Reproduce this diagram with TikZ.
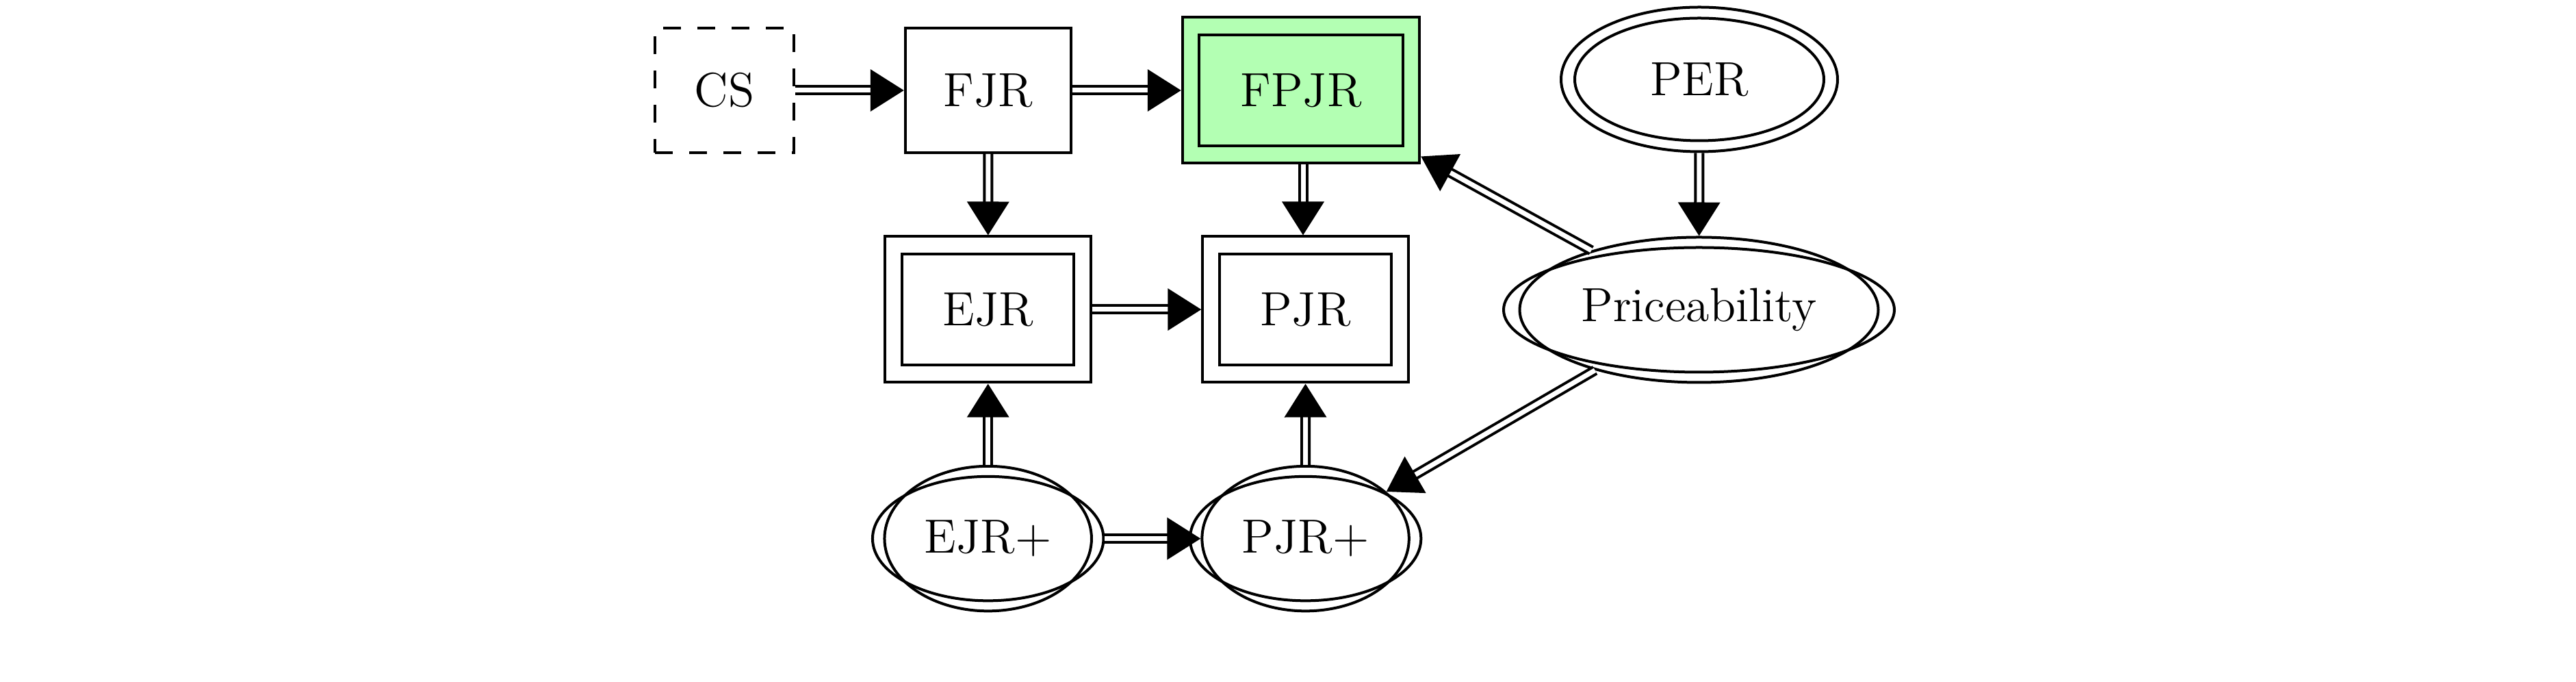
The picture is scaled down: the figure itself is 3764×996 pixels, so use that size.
\documentclass[tikz,border=0pt]{standalone}
\usetikzlibrary{arrows.meta,shapes.geometric}
\definecolor{fpjrgreen}{RGB}{179,255,179}
\begin{document}
\begin{tikzpicture}[x=0.2pt,y=-0.2pt,line width=0.8pt,
  every node/.style={font=\fontsize{14}{16.8}\selectfont,inner sep=0pt},
  plainbox/.style={draw,rectangle,minimum height=36.4pt},
  outerbox/.style={draw,rectangle,minimum width=60.1pt,minimum height=42.6pt},
  innerbox/.style={draw,rectangle,minimum width=50.2pt,minimum height=32.5pt},
  tallell/.style={draw,ellipse,minimum width=60.5pt,minimum height=42.3pt},
  wideell/.style={draw,ellipse,minimum width=67.5pt,minimum height=36.3pt},
  edge/.style={double,double distance=1.4pt,line width=0.8pt,-{Triangle[length=9.8pt,width=12.2pt]}}]
\useasboundingbox (0,0) rectangle (3764,996);
% top row
\node[plainbox,dash pattern=on 5.2pt off 4.8pt,minimum width=40.6pt] (cs) at (1058.5,132) {CS};
\node[plainbox,minimum width=48.5pt] (fjr) at (1444,132) {FJR};
\node[draw,rectangle,fill=fpjrgreen,minimum width=69.3pt,minimum height=42.6pt] (fpjr) at (1901,132) {};
\node[draw,rectangle,minimum width=59.6pt,minimum height=32.5pt] (fpjri) at (fpjr) {FPJR};
\node[draw,ellipse,minimum width=80.8pt,minimum height=42.2pt] (per) at (2483,116) {};
\node[draw,ellipse,minimum width=72.8pt,minimum height=35.8pt] (peri) at (per) {PER};
% middle row
\node[outerbox] (ejr) at (1443.7,452) {};
\node[innerbox] (ejri) at (ejr) {EJR};
\node[outerbox] (pjr) at (1907.5,452) {};
\node[innerbox] (pjri) at (pjr) {PJR};
\node[draw,ellipse,minimum width=104.8pt,minimum height=42.4pt] (price) at (2482.5,452.5) {};
\node[draw,ellipse,minimum width=114.2pt,minimum height=36.4pt] (pricew) at (price) {};
\node (pricet) at (price) {Priceability};
% bottom row
\node[tallell] (ejrp) at (1443.7,786.6) {};
\node[wideell] (ejrpw) at (ejrp) {};
\node (ejrpt) at (ejrp) {EJR+};
\node[tallell] (pjrp) at (1907.6,786.6) {};
\node[wideell] (pjrpw) at (pjrp) {};
\node (pjrpt) at (pjrp) {PJR+};
\coordinate (cx) at (1904,0);
% edges
\draw[edge] (cs) -- (fjr);
\draw[edge] (fjr) -- (fpjr);
\draw[edge] (fjr) -- (ejr);
\draw[edge] (fpjr.south -| cx) -- (pjr.north -| cx);
\draw[edge] (ejr) -- (pjr);
\draw[edge] (ejrp) -- (ejr);
\draw[edge] (pjrp) -- (pjr);
\draw[edge] (ejrpw.east) -- (pjrp.west);
\draw[edge] (per) -- (price);
\draw[edge] (price) -- (fpjr);
\draw[edge] (price) -- (pjrp);
\end{tikzpicture}
\end{document}
